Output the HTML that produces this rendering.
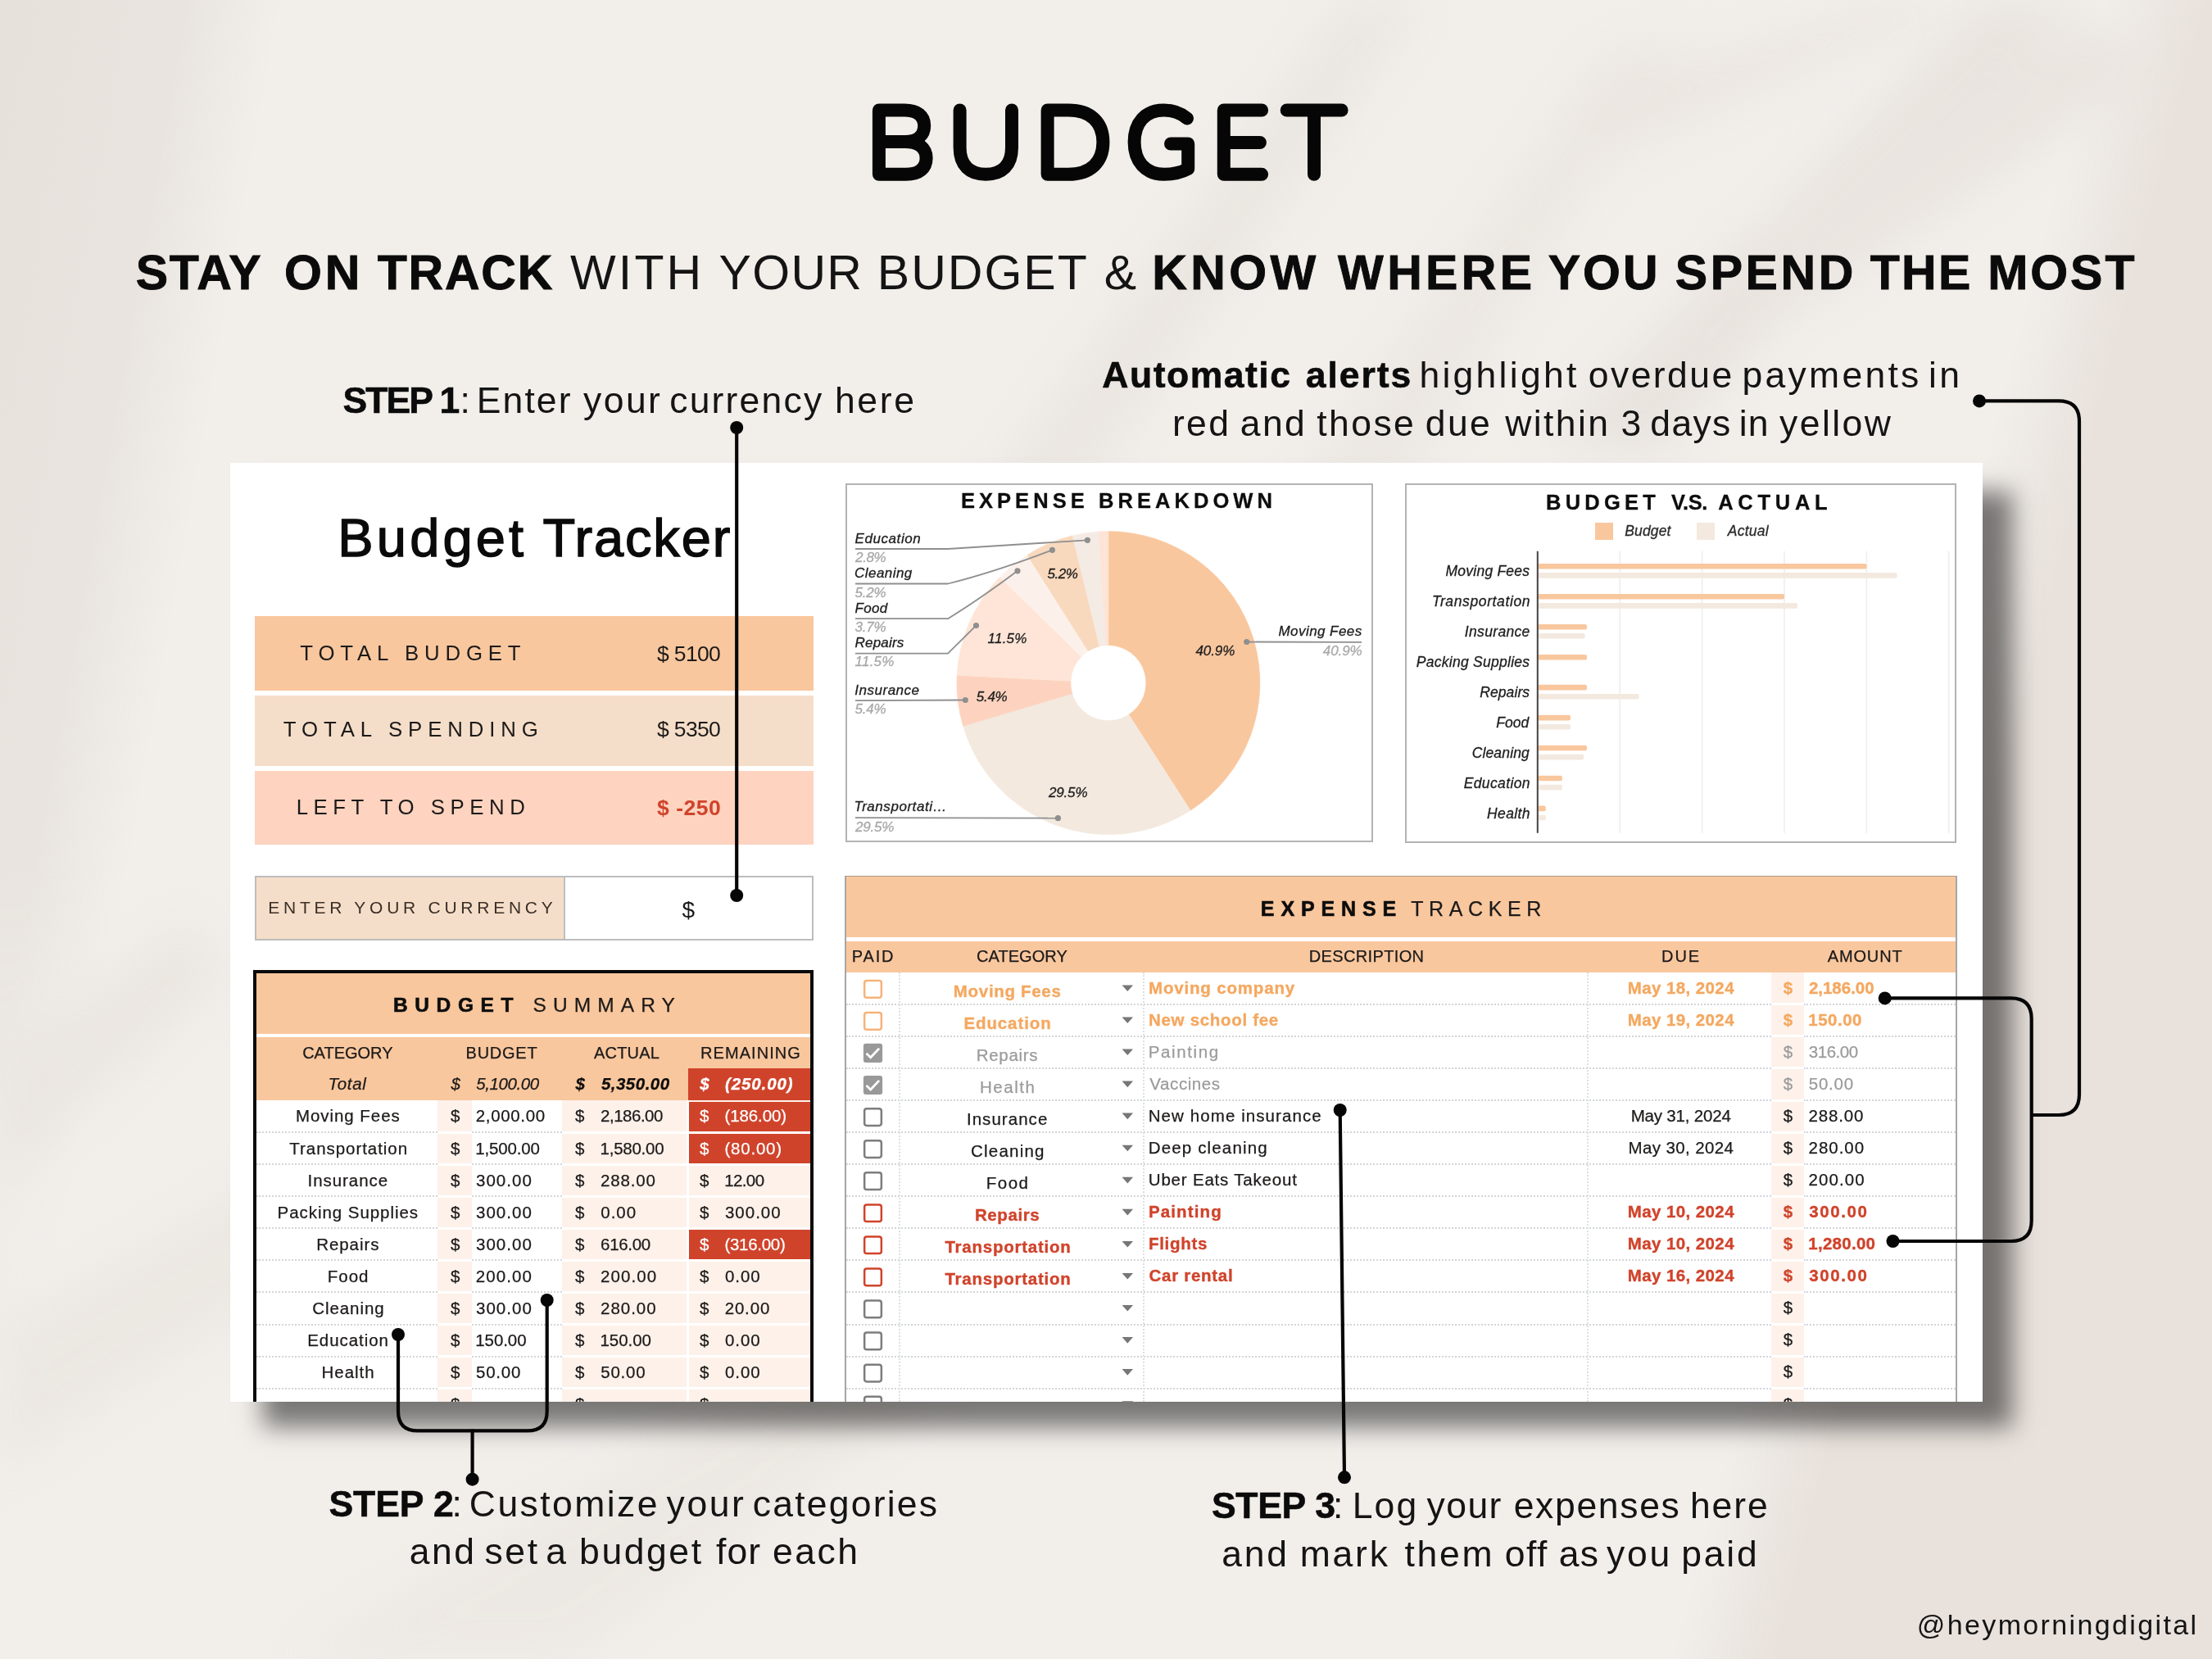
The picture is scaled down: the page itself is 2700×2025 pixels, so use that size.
<!DOCTYPE html>
<html lang="en"><head><meta charset="utf-8"><title>Budget</title><style>
html,body{margin:0;padding:0;}
body{width:2700px;height:2025px;position:relative;overflow:hidden;background:#f2efeb;font-family:"Liberation Sans",sans-serif;color:#111;}
#pg{position:absolute;left:0;top:0;width:2700px;height:2025px;overflow:hidden;will-change:transform;}
#pg div,#pg span,#pg svg{position:absolute;}
#pg span{white-space:pre;line-height:1;}
</style></head><body><div id="pg">
<div style="left:0;top:0;width:2700px;height:2025px;background:linear-gradient(100deg, #e7e1dc 0%, #e9e4df 7.5%, rgba(242,239,235,0) 11.2%);-webkit-mask-image:linear-gradient(to bottom, #000 0%, #000 52%, rgba(0,0,0,.35) 72%, rgba(0,0,0,.15) 100%);mask-image:linear-gradient(to bottom, #000 0%, #000 52%, rgba(0,0,0,.35) 72%, rgba(0,0,0,.15) 100%);"></div>
<div style="left:0;top:0;width:2700px;height:2025px;background:linear-gradient(104.6deg, rgba(232,225,220,0) 79.6%, #e8e1dc 83.4%, #e8e1dc 100%);"></div>
<svg width="2700" height="2025" viewBox="0 0 2700 2025" style="left:0;top:0;filter:blur(26px);opacity:.85"><path d="M1170,640 L1640,0 L1740,0 L1300,640 Z" fill="#eae5e0"/><path d="M1560,620 L1960,60 L2060,40 L1700,620 Z" fill="#ebe6e1"/><path d="M1880,540 L2420,0 L2540,0 L2020,560 Z" fill="#e8e2dd"/><path d="M2100,300 L2560,20 L2620,90 L2200,380 Z" fill="#e9e3de"/><path d="M1900,120 L2300,0 L2400,0 L1960,200 Z" fill="#ebe5e0"/><path d="M-50,1650 L420,1380 L520,1450 L0,1800 Z" fill="#ebe6e1"/><path d="M350,2025 L1000,1650 L1150,1700 L700,2025 Z" fill="#ece7e2"/><path d="M-20,1300 L230,1120 L280,1190 L0,1450 Z" fill="#eae5e0"/></svg>
<div style="left:281px;top:565px;width:2139.3px;height:1145.6px;background:#fff;box-shadow:38px 33px 28px -2px rgba(0,0,0,.5);"></div>
<div style="left:0;top:0;width:2700px;height:1710.6px;overflow:hidden">
<span style="left:412.37px;top:624.16px;font-size:65px;letter-spacing:4.138px;color:#0a0a0a;-webkit-text-stroke:1.4px #0a0a0a;">Budget</span>
<span style="left:662.44px;top:624.16px;font-size:65px;letter-spacing:1.825px;color:#0a0a0a;-webkit-text-stroke:1.4px #0a0a0a;">Tracker</span>
<div style="left:310.60px;top:751.80px;width:682.00px;height:91.20px;background:#F9C79E;"></div>
<div style="left:310.60px;top:848.60px;width:682.00px;height:86.80px;background:#F5DEC9;"></div>
<div style="left:310.60px;top:941.00px;width:682.00px;height:89.70px;background:#FED3BF;"></div>
<span style="left:366.32px;top:785.46px;font-size:25.8px;letter-spacing:6.800px;color:#1c1a19;">TOTAL BUDGET</span>
<span style="left:802.12px;top:784.86px;font-size:26.5px;letter-spacing:-0.689px;color:#1c1a19;">$ 5100</span>
<span style="left:345.82px;top:878.06px;font-size:25.8px;letter-spacing:6.876px;color:#1c1a19;">TOTAL SPENDING</span>
<span style="left:802.12px;top:877.46px;font-size:26.5px;letter-spacing:-0.689px;color:#1c1a19;">$ 5350</span>
<span style="left:361.68px;top:973.36px;font-size:25.8px;letter-spacing:6.536px;color:#1c1a19;">LEFT TO SPEND</span>
<span style="left:802.05px;top:972.76px;font-size:26.5px;letter-spacing:0.519px;font-weight:700;color:#D0432B;">$ -250</span>
<div style="left:310.60px;top:1068.50px;width:682.00px;height:79.10px;background:#fff;box-sizing:border-box;border:2px solid #bdbdbd;"></div>
<div style="left:312.60px;top:1070.50px;width:375.40px;height:75.10px;background:#F5DEC9;border-right:2px solid #bdbdbd;"></div>
<span style="left:327.28px;top:1097.22px;font-size:21px;letter-spacing:4.740px;color:#3a2e26;">ENTER YOUR CURRENCY</span>
<span style="left:832.49px;top:1096.59px;font-size:28px;color:#1c1a19;">$</span>
<div style="left:1031.70px;top:589.80px;width:644.00px;height:438.40px;background:#fff;box-sizing:border-box;border:2px solid #b3b3b3;"></div>
<span style="left:1172.89px;top:599.31px;font-size:25.5px;letter-spacing:5.067px;font-weight:700;color:#0d0d0d;-webkit-text-stroke:0.3px #0d0d0d;">EXPENSE BREAKDOWN</span>
<svg width="2700" height="1100" viewBox="0 0 2700 1100" style="left:0;top:0"><path d="M1352.90,648.60 A185,185 0 0 1 1453.01,989.17 L1377.79,872.28 A46,46 0 0 0 1352.90,787.60 Z" fill="#F9C79E" stroke="#F9C79E" stroke-width="0.6"/><path d="M1453.01,989.17 A185,185 0 0 1 1175.57,886.33 L1308.81,846.71 A46,46 0 0 0 1377.79,872.28 Z" fill="#F3E9DF" stroke="#F3E9DF" stroke-width="0.6"/><path d="M1175.57,886.33 A185,185 0 0 1 1168.13,824.30 L1306.96,831.29 A46,46 0 0 0 1308.81,846.71 Z" fill="#FDD3BF" stroke="#FDD3BF" stroke-width="0.6"/><path d="M1168.13,824.30 A185,185 0 0 1 1220.45,704.44 L1319.97,801.48 A46,46 0 0 0 1306.96,831.29 Z" fill="#FEE5D7" stroke="#FEE5D7" stroke-width="0.6"/><path d="M1220.45,704.44 A185,185 0 0 1 1253.77,677.40 L1328.25,794.76 A46,46 0 0 0 1319.97,801.48 Z" fill="#FCF1EA" stroke="#FCF1EA" stroke-width="0.6"/><path d="M1253.77,677.40 A185,185 0 0 1 1309.15,653.85 L1342.02,788.90 A46,46 0 0 0 1328.25,794.76 Z" fill="#F9D9BE" stroke="#F9D9BE" stroke-width="0.6"/><path d="M1309.15,653.85 A185,185 0 0 1 1341.28,648.97 L1350.01,787.69 A46,46 0 0 0 1342.02,788.90 Z" fill="#F5EBE5" stroke="#F5EBE5" stroke-width="0.6"/><path d="M1341.28,648.97 A185,185 0 0 1 1352.90,648.60 L1352.90,787.60 A46,46 0 0 0 1350.01,787.69 Z" fill="#FDE4D6" stroke="#FDE4D6" stroke-width="0.6"/><g fill="none" stroke="#8f8f8f" stroke-width="1.8"><path d="M1044,670 L1157,670 L1327.4,659.3"/><path d="M1044,712.5 L1157,712.5 Q1215,698 1284.4,671.3"/><path d="M1044,755.2 L1157,755.2 Q1195,732 1242,696.8"/><path d="M1044,797.7 L1157,797.7 L1191.5,763.5"/><path d="M1044,855.1 L1178.3,854.5"/><path d="M1044,998.1 L1291.4,998.7"/><path d="M1521.7,783.5 L1662,783.8"/></g><g fill="#8f8f8f"><circle cx="1327.4" cy="659.3" r="3.6"/><circle cx="1284.4" cy="671.3" r="3.6"/><circle cx="1242" cy="696.8" r="3.6"/><circle cx="1191.5" cy="763.5" r="3.6"/><circle cx="1178.3" cy="854.5" r="3.6"/><circle cx="1291.4" cy="998.7" r="3.6"/><circle cx="1521.7" cy="783.5" r="3.6"/></g></svg>
<span style="left:1043.48px;top:648.61px;font-size:17px;letter-spacing:0.584px;font-style:italic;color:#1d1d1d;-webkit-text-stroke:0.3px #1d1d1d;">Education</span>
<span style="left:1044.10px;top:671.61px;font-size:17px;letter-spacing:-0.406px;font-style:italic;color:#a8a8a8;-webkit-text-stroke:0.3px #a8a8a8;">2.8%</span>
<span style="left:1043.06px;top:691.01px;font-size:17px;letter-spacing:0.440px;font-style:italic;color:#1d1d1d;-webkit-text-stroke:0.3px #1d1d1d;">Cleaning</span>
<span style="left:1043.62px;top:714.61px;font-size:17px;letter-spacing:-0.246px;font-style:italic;color:#a8a8a8;-webkit-text-stroke:0.3px #a8a8a8;">5.2%</span>
<span style="left:1043.48px;top:733.81px;font-size:17px;letter-spacing:0.308px;font-style:italic;color:#1d1d1d;-webkit-text-stroke:0.3px #1d1d1d;">Food</span>
<span style="left:1043.60px;top:757.11px;font-size:17px;letter-spacing:-0.240px;font-style:italic;color:#a8a8a8;-webkit-text-stroke:0.3px #a8a8a8;">3.7%</span>
<span style="left:1043.48px;top:776.21px;font-size:17px;letter-spacing:0.213px;font-style:italic;color:#1d1d1d;-webkit-text-stroke:0.3px #1d1d1d;">Repairs</span>
<span style="left:1043.56px;top:799.21px;font-size:17px;letter-spacing:0.229px;font-style:italic;color:#a8a8a8;-webkit-text-stroke:0.3px #a8a8a8;">11.5%</span>
<span style="left:1043.33px;top:834.01px;font-size:17px;letter-spacing:0.504px;font-style:italic;color:#1d1d1d;-webkit-text-stroke:0.3px #1d1d1d;">Insurance</span>
<span style="left:1043.62px;top:856.71px;font-size:17px;letter-spacing:-0.246px;font-style:italic;color:#a8a8a8;-webkit-text-stroke:0.3px #a8a8a8;">5.4%</span>
<span style="left:1042.47px;top:976.01px;font-size:17px;letter-spacing:0.549px;font-style:italic;color:#1d1d1d;-webkit-text-stroke:0.3px #1d1d1d;">Transportati…</span>
<span style="left:1044.10px;top:1000.61px;font-size:17px;letter-spacing:-0.218px;font-style:italic;color:#a8a8a8;-webkit-text-stroke:0.3px #a8a8a8;">29.5%</span>
<span style="left:1560.48px;top:762.31px;font-size:17px;letter-spacing:0.444px;font-style:italic;color:#1d1d1d;-webkit-text-stroke:0.3px #1d1d1d;">Moving Fees</span>
<span style="left:1614.79px;top:786.31px;font-size:17px;letter-spacing:-0.091px;font-style:italic;color:#a8a8a8;-webkit-text-stroke:0.3px #a8a8a8;">40.9%</span>
<span style="left:1459.49px;top:786.31px;font-size:17px;letter-spacing:-0.091px;font-style:italic;color:#1d1d1d;-webkit-text-stroke:0.3px #1d1d1d;">40.9%</span>
<span style="left:1279.90px;top:958.51px;font-size:17px;letter-spacing:-0.143px;font-style:italic;color:#1d1d1d;-webkit-text-stroke:0.3px #1d1d1d;">29.5%</span>
<span style="left:1191.82px;top:842.31px;font-size:17px;letter-spacing:-0.279px;font-style:italic;color:#1d1d1d;-webkit-text-stroke:0.3px #1d1d1d;">5.4%</span>
<span style="left:1205.56px;top:771.01px;font-size:17px;letter-spacing:0.229px;font-style:italic;color:#1d1d1d;-webkit-text-stroke:0.3px #1d1d1d;">11.5%</span>
<span style="left:1278.42px;top:691.61px;font-size:17px;letter-spacing:-0.446px;font-style:italic;color:#1d1d1d;-webkit-text-stroke:0.3px #1d1d1d;">5.2%</span>
<div style="left:1715.00px;top:590.40px;width:672.80px;height:438.20px;background:#fff;box-sizing:border-box;border:2px solid #b3b3b3;"></div>
<span style="left:1887.09px;top:600.71px;font-size:25.5px;letter-spacing:5.222px;font-weight:700;color:#0d0d0d;-webkit-text-stroke:0.3px #0d0d0d;">BUDGET</span>
<span style="left:2039.93px;top:600.71px;font-size:25.5px;letter-spacing:-0.510px;font-weight:700;color:#0d0d0d;-webkit-text-stroke:0.3px #0d0d0d;">V.S.</span>
<span style="left:2097.16px;top:600.71px;font-size:25.5px;letter-spacing:5.738px;font-weight:700;color:#0d0d0d;-webkit-text-stroke:0.3px #0d0d0d;">ACTUAL</span>
<div style="left:1947.40px;top:638.00px;width:21.20px;height:20.50px;background:#F9C79E;"></div>
<div style="left:2071.00px;top:638.00px;width:22.00px;height:20.50px;background:#F3E9DF;"></div>
<span style="left:1983.26px;top:639.68px;font-size:17.5px;letter-spacing:0.153px;font-style:italic;color:#2a2a2a;-webkit-text-stroke:0.3px #2a2a2a;">Budget</span>
<span style="left:2108.76px;top:639.68px;font-size:17.5px;letter-spacing:0.241px;font-style:italic;color:#2a2a2a;-webkit-text-stroke:0.3px #2a2a2a;">Actual</span>
<svg width="2700" height="1100" viewBox="0 0 2700 1100" style="left:0;top:0"><rect x="1976.5" y="672.8" width="1.4" height="344" fill="#ececec"/><rect x="2076.9" y="672.8" width="1.4" height="344" fill="#ececec"/><rect x="2177.3" y="672.8" width="1.4" height="344" fill="#ececec"/><rect x="2277.7" y="672.8" width="1.4" height="344" fill="#ececec"/><rect x="2378.1" y="672.8" width="1.4" height="344" fill="#ececec"/><rect x="1876.8" y="688.0" width="401.6" height="6.6" rx="2" fill="#F9C79E"/><rect x="1876.8" y="699.1" width="438.9" height="6.6" rx="2" fill="#F3E9DF"/><rect x="1876.8" y="725.0" width="301.2" height="6.6" rx="2" fill="#F9C79E"/><rect x="1876.8" y="736.1" width="317.3" height="6.6" rx="2" fill="#F3E9DF"/><rect x="1876.8" y="761.9" width="60.2" height="6.6" rx="2" fill="#F9C79E"/><rect x="1876.8" y="773.0" width="57.8" height="6.6" rx="2" fill="#F3E9DF"/><rect x="1876.8" y="798.9" width="60.2" height="6.6" rx="2" fill="#F9C79E"/><rect x="1876.8" y="835.8" width="60.2" height="6.6" rx="2" fill="#F9C79E"/><rect x="1876.8" y="846.9" width="123.7" height="6.6" rx="2" fill="#F3E9DF"/><rect x="1876.8" y="872.8" width="40.2" height="6.6" rx="2" fill="#F9C79E"/><rect x="1876.8" y="883.9" width="40.2" height="6.6" rx="2" fill="#F3E9DF"/><rect x="1876.8" y="909.7" width="60.2" height="6.6" rx="2" fill="#F9C79E"/><rect x="1876.8" y="920.8" width="56.2" height="6.6" rx="2" fill="#F3E9DF"/><rect x="1876.8" y="946.7" width="30.1" height="6.6" rx="2" fill="#F9C79E"/><rect x="1876.8" y="957.8" width="30.1" height="6.6" rx="2" fill="#F3E9DF"/><rect x="1876.8" y="983.6" width="10.0" height="6.6" rx="2" fill="#F9C79E"/><rect x="1876.8" y="994.7" width="10.0" height="6.6" rx="2" fill="#F3E9DF"/><rect x="1875.8" y="672.8" width="2.0" height="344" fill="#444"/></svg>
<span style="left:1764.56px;top:689.28px;font-size:17.5px;letter-spacing:0.231px;font-style:italic;color:#1d1d1d;-webkit-text-stroke:0.3px #1d1d1d;">Moving Fees</span>
<span style="left:1747.93px;top:726.23px;font-size:17.5px;letter-spacing:0.617px;font-style:italic;color:#1d1d1d;-webkit-text-stroke:0.3px #1d1d1d;">Transportation</span>
<span style="left:1787.81px;top:763.18px;font-size:17.5px;letter-spacing:0.335px;font-style:italic;color:#1d1d1d;-webkit-text-stroke:0.3px #1d1d1d;">Insurance</span>
<span style="left:1728.76px;top:800.13px;font-size:17.5px;letter-spacing:0.270px;font-style:italic;color:#1d1d1d;-webkit-text-stroke:0.3px #1d1d1d;">Packing Supplies</span>
<span style="left:1806.26px;top:837.08px;font-size:17.5px;letter-spacing:0.081px;font-style:italic;color:#1d1d1d;-webkit-text-stroke:0.3px #1d1d1d;">Repairs</span>
<span style="left:1826.36px;top:874.03px;font-size:17.5px;font-style:italic;color:#1d1d1d;-webkit-text-stroke:0.3px #1d1d1d;">Food</span>
<span style="left:1796.63px;top:910.98px;font-size:17.5px;letter-spacing:0.163px;font-style:italic;color:#1d1d1d;-webkit-text-stroke:0.3px #1d1d1d;">Cleaning</span>
<span style="left:1786.66px;top:947.93px;font-size:17.5px;letter-spacing:0.374px;font-style:italic;color:#1d1d1d;-webkit-text-stroke:0.3px #1d1d1d;">Education</span>
<span style="left:1815.06px;top:984.88px;font-size:17.5px;letter-spacing:0.370px;font-style:italic;color:#1d1d1d;-webkit-text-stroke:0.3px #1d1d1d;">Health</span>
<div style="left:313.00px;top:1187.00px;width:675.70px;height:74.50px;background:#F9C79E;"></div>
<div style="left:313.00px;top:1266.00px;width:675.70px;height:77.04px;background:#F9C79E;"></div>
<span style="left:479.96px;top:1215.26px;font-size:24.5px;letter-spacing:8.630px;font-weight:700;color:#0d0d0d;-webkit-text-stroke:0.6px #0d0d0d;">BUDGET</span>
<span style="left:650.49px;top:1215.26px;font-size:24.5px;letter-spacing:8.109px;color:#1c1a19;-webkit-text-stroke:0.25px #1c1a19;">SUMMARY</span>
<span style="left:369.18px;top:1274.87px;font-size:20px;letter-spacing:-0.005px;color:#1c1a19;-webkit-text-stroke:0.25px #1c1a19;">CATEGORY</span>
<span style="left:568.56px;top:1274.87px;font-size:20px;letter-spacing:0.751px;color:#1c1a19;-webkit-text-stroke:0.25px #1c1a19;">BUDGET</span>
<span style="left:724.96px;top:1274.87px;font-size:20px;letter-spacing:0.219px;color:#1c1a19;-webkit-text-stroke:0.25px #1c1a19;">ACTUAL</span>
<span style="left:855.06px;top:1274.87px;font-size:20px;letter-spacing:1.061px;color:#1c1a19;-webkit-text-stroke:0.25px #1c1a19;">REMAINING</span>
<div style="left:534.00px;top:1343.04px;width:41.70px;height:367.56px;background:#FDF1EA;"></div>
<div style="left:686.00px;top:1343.04px;width:302.70px;height:367.56px;background:#FDF1EA;"></div>
<div style="left:838.20px;top:1343.04px;width:3.00px;height:367.56px;background:#fff;"></div>
<div style="left:839.70px;top:1303.98px;width:149.00px;height:39.06px;background:#D0432B;"></div>
<span style="left:400.60px;top:1313.42px;font-size:20.5px;letter-spacing:0.600px;font-style:italic;color:#1c1a19;-webkit-text-stroke:0.25px #1c1a19;">Total</span>
<span style="left:550.42px;top:1313.42px;font-size:20.5px;font-style:italic;color:#1c1a19;-webkit-text-stroke:0.25px #1c1a19;">$</span>
<span style="left:581.34px;top:1313.42px;font-size:20.5px;letter-spacing:-0.412px;font-style:italic;color:#1c1a19;-webkit-text-stroke:0.25px #1c1a19;">5,100.00</span>
<span style="left:702.41px;top:1313.42px;font-size:20.5px;font-weight:700;font-style:italic;color:#0d0d0d;-webkit-text-stroke:0.25px #0d0d0d;">$</span>
<span style="left:733.90px;top:1313.42px;font-size:20.5px;letter-spacing:0.490px;font-weight:700;font-style:italic;color:#0d0d0d;-webkit-text-stroke:0.25px #0d0d0d;">5,350.00</span>
<span style="left:854.31px;top:1313.42px;font-size:20.5px;font-weight:700;font-style:italic;color:#fff;-webkit-text-stroke:0.25px #fff;">$</span>
<span style="left:884.96px;top:1313.42px;font-size:20.5px;letter-spacing:0.908px;font-weight:700;font-style:italic;color:#fff;-webkit-text-stroke:0.25px #fff;">(250.00)</span>
<div style="left:841.20px;top:1344.54px;width:147.50px;height:36.06px;background:#D0432B;"></div>
<div style="left:534.00px;top:1380.60px;width:41.70px;height:3.00px;background:#fff;"></div>
<div style="left:686.00px;top:1380.60px;width:302.70px;height:3.00px;background:#fff;"></div>
<div style="left:313.0px;top:1381.1px;width:221.0px;height:0;border-top:2px dotted #d3d6d9;"></div>
<div style="left:575.7px;top:1381.1px;width:110.3px;height:0;border-top:2px dotted #d3d6d9;"></div>
<span style="left:360.90px;top:1352.48px;font-size:20.5px;letter-spacing:0.950px;color:#1c1a19;-webkit-text-stroke:0.25px #1c1a19;">Moving Fees</span>
<span style="left:550.08px;top:1352.48px;font-size:20.5px;color:#1c1a19;-webkit-text-stroke:0.25px #1c1a19;">$</span>
<span style="left:580.77px;top:1352.48px;font-size:20.5px;letter-spacing:0.646px;color:#1c1a19;-webkit-text-stroke:0.25px #1c1a19;">2,000.00</span>
<span style="left:702.08px;top:1352.48px;font-size:20.5px;color:#1c1a19;-webkit-text-stroke:0.25px #1c1a19;">$</span>
<span style="left:733.07px;top:1352.48px;font-size:20.5px;letter-spacing:-0.497px;color:#1c1a19;-webkit-text-stroke:0.25px #1c1a19;">2,186.00</span>
<span style="left:853.98px;top:1352.48px;font-size:20.5px;color:#fff;-webkit-text-stroke:0.25px #fff;">$</span>
<span style="left:884.43px;top:1352.48px;font-size:20.5px;letter-spacing:-0.102px;color:#fff;-webkit-text-stroke:0.25px #fff;">(186.00)</span>
<div style="left:841.20px;top:1383.60px;width:147.50px;height:36.06px;background:#D0432B;"></div>
<div style="left:534.00px;top:1419.66px;width:41.70px;height:3.00px;background:#fff;"></div>
<div style="left:686.00px;top:1419.66px;width:302.70px;height:3.00px;background:#fff;"></div>
<div style="left:313.0px;top:1420.2px;width:221.0px;height:0;border-top:2px dotted #d3d6d9;"></div>
<div style="left:575.7px;top:1420.2px;width:110.3px;height:0;border-top:2px dotted #d3d6d9;"></div>
<span style="left:353.35px;top:1391.54px;font-size:20.5px;letter-spacing:0.950px;color:#1c1a19;-webkit-text-stroke:0.25px #1c1a19;">Transportation</span>
<span style="left:550.08px;top:1391.54px;font-size:20.5px;color:#1c1a19;-webkit-text-stroke:0.25px #1c1a19;">$</span>
<span style="left:580.24px;top:1391.54px;font-size:20.5px;letter-spacing:-0.164px;color:#1c1a19;-webkit-text-stroke:0.25px #1c1a19;">1,500.00</span>
<span style="left:702.08px;top:1391.54px;font-size:20.5px;color:#1c1a19;-webkit-text-stroke:0.25px #1c1a19;">$</span>
<span style="left:732.54px;top:1391.54px;font-size:20.5px;letter-spacing:-0.243px;color:#1c1a19;-webkit-text-stroke:0.25px #1c1a19;">1,580.00</span>
<span style="left:853.98px;top:1391.54px;font-size:20.5px;color:#fff;-webkit-text-stroke:0.25px #fff;">$</span>
<span style="left:884.43px;top:1391.54px;font-size:20.5px;letter-spacing:0.787px;color:#fff;-webkit-text-stroke:0.25px #fff;">(80.00)</span>
<div style="left:534.00px;top:1458.72px;width:41.70px;height:3.00px;background:#fff;"></div>
<div style="left:686.00px;top:1458.72px;width:302.70px;height:3.00px;background:#fff;"></div>
<div style="left:313.0px;top:1459.2px;width:221.0px;height:0;border-top:2px dotted #d3d6d9;"></div>
<div style="left:575.7px;top:1459.2px;width:110.3px;height:0;border-top:2px dotted #d3d6d9;"></div>
<span style="left:375.49px;top:1430.60px;font-size:20.5px;letter-spacing:0.950px;color:#1c1a19;-webkit-text-stroke:0.25px #1c1a19;">Insurance</span>
<span style="left:550.08px;top:1430.60px;font-size:20.5px;color:#1c1a19;-webkit-text-stroke:0.25px #1c1a19;">$</span>
<span style="left:581.02px;top:1430.60px;font-size:20.5px;letter-spacing:1.016px;color:#1c1a19;-webkit-text-stroke:0.25px #1c1a19;">300.00</span>
<span style="left:702.08px;top:1430.60px;font-size:20.5px;color:#1c1a19;-webkit-text-stroke:0.25px #1c1a19;">$</span>
<span style="left:733.07px;top:1430.60px;font-size:20.5px;letter-spacing:0.846px;color:#1c1a19;-webkit-text-stroke:0.25px #1c1a19;">288.00</span>
<span style="left:853.98px;top:1430.60px;font-size:20.5px;color:#1c1a19;-webkit-text-stroke:0.25px #1c1a19;">$</span>
<span style="left:884.14px;top:1430.60px;font-size:20.5px;letter-spacing:-0.588px;color:#1c1a19;-webkit-text-stroke:0.25px #1c1a19;">12.00</span>
<div style="left:534.00px;top:1497.78px;width:41.70px;height:3.00px;background:#fff;"></div>
<div style="left:686.00px;top:1497.78px;width:302.70px;height:3.00px;background:#fff;"></div>
<div style="left:313.0px;top:1498.3px;width:221.0px;height:0;border-top:2px dotted #d3d6d9;"></div>
<div style="left:575.7px;top:1498.3px;width:110.3px;height:0;border-top:2px dotted #d3d6d9;"></div>
<span style="left:338.57px;top:1469.66px;font-size:20.5px;letter-spacing:0.950px;color:#1c1a19;-webkit-text-stroke:0.25px #1c1a19;">Packing Supplies</span>
<span style="left:550.08px;top:1469.66px;font-size:20.5px;color:#1c1a19;-webkit-text-stroke:0.25px #1c1a19;">$</span>
<span style="left:581.02px;top:1469.66px;font-size:20.5px;letter-spacing:1.016px;color:#1c1a19;-webkit-text-stroke:0.25px #1c1a19;">300.00</span>
<span style="left:702.08px;top:1469.66px;font-size:20.5px;color:#1c1a19;-webkit-text-stroke:0.25px #1c1a19;">$</span>
<span style="left:733.30px;top:1469.66px;font-size:20.5px;letter-spacing:0.965px;color:#1c1a19;-webkit-text-stroke:0.25px #1c1a19;">0.00</span>
<span style="left:853.98px;top:1469.66px;font-size:20.5px;color:#1c1a19;-webkit-text-stroke:0.25px #1c1a19;">$</span>
<span style="left:884.92px;top:1469.66px;font-size:20.5px;letter-spacing:1.016px;color:#1c1a19;-webkit-text-stroke:0.25px #1c1a19;">300.00</span>
<div style="left:841.20px;top:1500.78px;width:147.50px;height:36.06px;background:#D0432B;"></div>
<div style="left:534.00px;top:1536.84px;width:41.70px;height:3.00px;background:#fff;"></div>
<div style="left:686.00px;top:1536.84px;width:302.70px;height:3.00px;background:#fff;"></div>
<div style="left:313.0px;top:1537.3px;width:221.0px;height:0;border-top:2px dotted #d3d6d9;"></div>
<div style="left:575.7px;top:1537.3px;width:110.3px;height:0;border-top:2px dotted #d3d6d9;"></div>
<span style="left:386.16px;top:1508.72px;font-size:20.5px;letter-spacing:0.950px;color:#1c1a19;-webkit-text-stroke:0.25px #1c1a19;">Repairs</span>
<span style="left:550.08px;top:1508.72px;font-size:20.5px;color:#1c1a19;-webkit-text-stroke:0.25px #1c1a19;">$</span>
<span style="left:581.02px;top:1508.72px;font-size:20.5px;letter-spacing:1.016px;color:#1c1a19;-webkit-text-stroke:0.25px #1c1a19;">300.00</span>
<span style="left:702.08px;top:1508.72px;font-size:20.5px;color:#1c1a19;-webkit-text-stroke:0.25px #1c1a19;">$</span>
<span style="left:733.06px;top:1508.72px;font-size:20.5px;letter-spacing:-0.312px;color:#1c1a19;-webkit-text-stroke:0.25px #1c1a19;">616.00</span>
<span style="left:853.98px;top:1508.72px;font-size:20.5px;color:#fff;-webkit-text-stroke:0.25px #fff;">$</span>
<span style="left:884.43px;top:1508.72px;font-size:20.5px;letter-spacing:-0.281px;color:#fff;-webkit-text-stroke:0.25px #fff;">(316.00)</span>
<div style="left:534.00px;top:1575.90px;width:41.70px;height:3.00px;background:#fff;"></div>
<div style="left:686.00px;top:1575.90px;width:302.70px;height:3.00px;background:#fff;"></div>
<div style="left:313.0px;top:1576.4px;width:221.0px;height:0;border-top:2px dotted #d3d6d9;"></div>
<div style="left:575.7px;top:1576.4px;width:110.3px;height:0;border-top:2px dotted #d3d6d9;"></div>
<span style="left:399.83px;top:1547.78px;font-size:20.5px;letter-spacing:0.950px;color:#1c1a19;-webkit-text-stroke:0.25px #1c1a19;">Food</span>
<span style="left:550.08px;top:1547.78px;font-size:20.5px;color:#1c1a19;-webkit-text-stroke:0.25px #1c1a19;">$</span>
<span style="left:580.77px;top:1547.78px;font-size:20.5px;letter-spacing:1.066px;color:#1c1a19;-webkit-text-stroke:0.25px #1c1a19;">200.00</span>
<span style="left:702.08px;top:1547.78px;font-size:20.5px;color:#1c1a19;-webkit-text-stroke:0.25px #1c1a19;">$</span>
<span style="left:733.07px;top:1547.78px;font-size:20.5px;letter-spacing:1.066px;color:#1c1a19;-webkit-text-stroke:0.25px #1c1a19;">200.00</span>
<span style="left:853.98px;top:1547.78px;font-size:20.5px;color:#1c1a19;-webkit-text-stroke:0.25px #1c1a19;">$</span>
<span style="left:884.90px;top:1547.78px;font-size:20.5px;letter-spacing:0.965px;color:#1c1a19;-webkit-text-stroke:0.25px #1c1a19;">0.00</span>
<div style="left:534.00px;top:1614.96px;width:41.70px;height:3.00px;background:#fff;"></div>
<div style="left:686.00px;top:1614.96px;width:302.70px;height:3.00px;background:#fff;"></div>
<div style="left:313.0px;top:1615.5px;width:221.0px;height:0;border-top:2px dotted #d3d6d9;"></div>
<div style="left:575.7px;top:1615.5px;width:110.3px;height:0;border-top:2px dotted #d3d6d9;"></div>
<span style="left:381.15px;top:1586.84px;font-size:20.5px;letter-spacing:0.950px;color:#1c1a19;-webkit-text-stroke:0.25px #1c1a19;">Cleaning</span>
<span style="left:550.08px;top:1586.84px;font-size:20.5px;color:#1c1a19;-webkit-text-stroke:0.25px #1c1a19;">$</span>
<span style="left:581.02px;top:1586.84px;font-size:20.5px;letter-spacing:1.016px;color:#1c1a19;-webkit-text-stroke:0.25px #1c1a19;">300.00</span>
<span style="left:702.08px;top:1586.84px;font-size:20.5px;color:#1c1a19;-webkit-text-stroke:0.25px #1c1a19;">$</span>
<span style="left:733.07px;top:1586.84px;font-size:20.5px;letter-spacing:0.956px;color:#1c1a19;-webkit-text-stroke:0.25px #1c1a19;">280.00</span>
<span style="left:853.98px;top:1586.84px;font-size:20.5px;color:#1c1a19;-webkit-text-stroke:0.25px #1c1a19;">$</span>
<span style="left:884.67px;top:1586.84px;font-size:20.5px;letter-spacing:0.830px;color:#1c1a19;-webkit-text-stroke:0.25px #1c1a19;">20.00</span>
<div style="left:534.00px;top:1654.02px;width:41.70px;height:3.00px;background:#fff;"></div>
<div style="left:686.00px;top:1654.02px;width:302.70px;height:3.00px;background:#fff;"></div>
<div style="left:313.0px;top:1654.5px;width:221.0px;height:0;border-top:2px dotted #d3d6d9;"></div>
<div style="left:575.7px;top:1654.5px;width:110.3px;height:0;border-top:2px dotted #d3d6d9;"></div>
<span style="left:375.23px;top:1625.90px;font-size:20.5px;letter-spacing:0.950px;color:#1c1a19;-webkit-text-stroke:0.25px #1c1a19;">Education</span>
<span style="left:550.08px;top:1625.90px;font-size:20.5px;color:#1c1a19;-webkit-text-stroke:0.25px #1c1a19;">$</span>
<span style="left:580.24px;top:1625.90px;font-size:20.5px;letter-spacing:-0.068px;color:#1c1a19;-webkit-text-stroke:0.25px #1c1a19;">150.00</span>
<span style="left:702.08px;top:1625.90px;font-size:20.5px;color:#1c1a19;-webkit-text-stroke:0.25px #1c1a19;">$</span>
<span style="left:732.54px;top:1625.90px;font-size:20.5px;letter-spacing:-0.068px;color:#1c1a19;-webkit-text-stroke:0.25px #1c1a19;">150.00</span>
<span style="left:853.98px;top:1625.90px;font-size:20.5px;color:#1c1a19;-webkit-text-stroke:0.25px #1c1a19;">$</span>
<span style="left:884.90px;top:1625.90px;font-size:20.5px;letter-spacing:0.965px;color:#1c1a19;-webkit-text-stroke:0.25px #1c1a19;">0.00</span>
<div style="left:534.00px;top:1693.08px;width:41.70px;height:3.00px;background:#fff;"></div>
<div style="left:686.00px;top:1693.08px;width:302.70px;height:3.00px;background:#fff;"></div>
<div style="left:313.0px;top:1693.6px;width:221.0px;height:0;border-top:2px dotted #d3d6d9;"></div>
<div style="left:575.7px;top:1693.6px;width:110.3px;height:0;border-top:2px dotted #d3d6d9;"></div>
<span style="left:392.62px;top:1664.96px;font-size:20.5px;letter-spacing:0.950px;color:#1c1a19;-webkit-text-stroke:0.25px #1c1a19;">Health</span>
<span style="left:550.08px;top:1664.96px;font-size:20.5px;color:#1c1a19;-webkit-text-stroke:0.25px #1c1a19;">$</span>
<span style="left:580.98px;top:1664.96px;font-size:20.5px;letter-spacing:0.777px;color:#1c1a19;-webkit-text-stroke:0.25px #1c1a19;">50.00</span>
<span style="left:702.08px;top:1664.96px;font-size:20.5px;color:#1c1a19;-webkit-text-stroke:0.25px #1c1a19;">$</span>
<span style="left:733.28px;top:1664.96px;font-size:20.5px;letter-spacing:0.777px;color:#1c1a19;-webkit-text-stroke:0.25px #1c1a19;">50.00</span>
<span style="left:853.98px;top:1664.96px;font-size:20.5px;color:#1c1a19;-webkit-text-stroke:0.25px #1c1a19;">$</span>
<span style="left:884.90px;top:1664.96px;font-size:20.5px;letter-spacing:0.965px;color:#1c1a19;-webkit-text-stroke:0.25px #1c1a19;">0.00</span>
<div style="left:534.00px;top:1732.14px;width:41.70px;height:3.00px;background:#fff;"></div>
<div style="left:686.00px;top:1732.14px;width:302.70px;height:3.00px;background:#fff;"></div>
<div style="left:313.0px;top:1732.6px;width:221.0px;height:0;border-top:2px dotted #d3d6d9;"></div>
<div style="left:575.7px;top:1732.6px;width:110.3px;height:0;border-top:2px dotted #d3d6d9;"></div>
<span style="left:550.08px;top:1704.02px;font-size:20.5px;color:#1c1a19;-webkit-text-stroke:0.25px #1c1a19;">$</span>
<span style="left:702.08px;top:1704.02px;font-size:20.5px;color:#1c1a19;-webkit-text-stroke:0.25px #1c1a19;">$</span>
<span style="left:853.98px;top:1704.02px;font-size:20.5px;color:#1c1a19;-webkit-text-stroke:0.25px #1c1a19;">$</span>
<div style="left:309px;top:1183.5px;width:675.7px;height:527.0999999999999px;border:4px solid #0b0b0b;border-bottom:none;"></div>
<div style="left:1030.50px;top:1069.00px;width:1358.50px;height:75.00px;background:#F9C79E;box-sizing:border-box;border-top:1.5px solid #a89888;"></div>
<div style="left:1030.50px;top:1148.50px;width:1358.50px;height:38.30px;background:#F9C79E;"></div>
<span style="left:1538.83px;top:1097.13px;font-size:25px;letter-spacing:7.890px;font-weight:700;color:#0d0d0d;-webkit-text-stroke:0.6px #0d0d0d;">EXPENSE</span>
<span style="left:1722.24px;top:1097.13px;font-size:25px;letter-spacing:6.592px;color:#1c1a19;-webkit-text-stroke:0.25px #1c1a19;">TRACKER</span>
<span style="left:1039.66px;top:1157.27px;font-size:20px;letter-spacing:1.898px;color:#1c1a19;-webkit-text-stroke:0.25px #1c1a19;">PAID</span>
<span style="left:1192.08px;top:1157.27px;font-size:20px;letter-spacing:0.038px;color:#1c1a19;-webkit-text-stroke:0.25px #1c1a19;">CATEGORY</span>
<span style="left:1597.76px;top:1157.27px;font-size:20px;letter-spacing:0.358px;color:#1c1a19;-webkit-text-stroke:0.25px #1c1a19;">DESCRIPTION</span>
<span style="left:2028.06px;top:1157.27px;font-size:20px;letter-spacing:1.933px;color:#1c1a19;-webkit-text-stroke:0.25px #1c1a19;">DUE</span>
<span style="left:2230.66px;top:1157.27px;font-size:20px;letter-spacing:0.885px;color:#1c1a19;-webkit-text-stroke:0.25px #1c1a19;">AMOUNT</span>
<div style="left:2162.00px;top:1186.80px;width:40.30px;height:523.80px;background:#FDF1EA;"></div>
<div style="left:1032.5px;top:1224.9px;width:1129.5px;height:0;border-top:2px dotted #d3d6d9;"></div>
<div style="left:2202.3px;top:1224.9px;width:184.7px;height:0;border-top:2px dotted #d3d6d9;"></div>
<div style="left:2162.00px;top:1224.36px;width:40.30px;height:3.00px;background:#fff;"></div>
<span style="left:1163.83px;top:1199.54px;font-size:20.5px;letter-spacing:0.684px;font-weight:700;color:#F4A860;-webkit-text-stroke:0.35px #F4A860;">Moving Fees</span>
<span style="left:1402.03px;top:1195.74px;font-size:20.5px;letter-spacing:0.826px;font-weight:700;color:#F4A860;-webkit-text-stroke:0.35px #F4A860;">Moving company</span>
<span style="left:1986.78px;top:1195.74px;font-size:20.5px;letter-spacing:0.401px;font-weight:700;color:#F4A860;-webkit-text-stroke:0.35px #F4A860;">May 18, 2024</span>
<span style="left:2176.73px;top:1195.74px;font-size:20.5px;font-weight:700;color:#F4A860;-webkit-text-stroke:0.25px #F4A860;">$</span>
<span style="left:2207.89px;top:1195.74px;font-size:20.5px;letter-spacing:-0.005px;font-weight:700;color:#F4A860;-webkit-text-stroke:0.35px #F4A860;">2,186.00</span>
<div style="left:1032.5px;top:1263.9px;width:1129.5px;height:0;border-top:2px dotted #d3d6d9;"></div>
<div style="left:2202.3px;top:1263.9px;width:184.7px;height:0;border-top:2px dotted #d3d6d9;"></div>
<div style="left:2162.00px;top:1263.42px;width:40.30px;height:3.00px;background:#fff;"></div>
<span style="left:1176.38px;top:1238.60px;font-size:20.5px;letter-spacing:0.906px;font-weight:700;color:#F4A860;-webkit-text-stroke:0.35px #F4A860;">Education</span>
<span style="left:1402.03px;top:1234.80px;font-size:20.5px;letter-spacing:0.694px;font-weight:700;color:#F4A860;-webkit-text-stroke:0.35px #F4A860;">New school fee</span>
<span style="left:1986.78px;top:1234.80px;font-size:20.5px;letter-spacing:0.401px;font-weight:700;color:#F4A860;-webkit-text-stroke:0.35px #F4A860;">May 19, 2024</span>
<span style="left:2176.73px;top:1234.80px;font-size:20.5px;font-weight:700;color:#F4A860;-webkit-text-stroke:0.25px #F4A860;">$</span>
<span style="left:2207.31px;top:1234.80px;font-size:20.5px;letter-spacing:0.486px;font-weight:700;color:#F4A860;-webkit-text-stroke:0.35px #F4A860;">150.00</span>
<div style="left:1032.5px;top:1303.0px;width:1129.5px;height:0;border-top:2px dotted #d3d6d9;"></div>
<div style="left:2202.3px;top:1303.0px;width:184.7px;height:0;border-top:2px dotted #d3d6d9;"></div>
<div style="left:2162.00px;top:1302.48px;width:40.30px;height:3.00px;background:#fff;"></div>
<span style="left:1191.77px;top:1277.66px;font-size:20.5px;letter-spacing:0.680px;color:#9b9b9b;-webkit-text-stroke:0.25px #9b9b9b;">Repairs</span>
<span style="left:1401.72px;top:1273.86px;font-size:20.5px;letter-spacing:1.616px;color:#9b9b9b;-webkit-text-stroke:0.25px #9b9b9b;">Painting</span>
<span style="left:2176.78px;top:1273.86px;font-size:20.5px;color:#9b9b9b;-webkit-text-stroke:0.25px #9b9b9b;">$</span>
<span style="left:2207.82px;top:1273.86px;font-size:20.5px;letter-spacing:-0.474px;color:#9b9b9b;-webkit-text-stroke:0.25px #9b9b9b;">316.00</span>
<div style="left:1032.5px;top:1342.0px;width:1129.5px;height:0;border-top:2px dotted #d3d6d9;"></div>
<div style="left:2202.3px;top:1342.0px;width:184.7px;height:0;border-top:2px dotted #d3d6d9;"></div>
<div style="left:2162.00px;top:1341.54px;width:40.30px;height:3.00px;background:#fff;"></div>
<span style="left:1195.97px;top:1316.72px;font-size:20.5px;letter-spacing:1.529px;color:#9b9b9b;-webkit-text-stroke:0.25px #9b9b9b;">Health</span>
<span style="left:1403.31px;top:1312.92px;font-size:20.5px;letter-spacing:0.594px;color:#9b9b9b;-webkit-text-stroke:0.25px #9b9b9b;">Vaccines</span>
<span style="left:2176.78px;top:1312.92px;font-size:20.5px;color:#9b9b9b;-webkit-text-stroke:0.25px #9b9b9b;">$</span>
<span style="left:2207.78px;top:1312.92px;font-size:20.5px;letter-spacing:0.777px;color:#9b9b9b;-webkit-text-stroke:0.25px #9b9b9b;">50.00</span>
<div style="left:1032.5px;top:1381.1px;width:1129.5px;height:0;border-top:2px dotted #d3d6d9;"></div>
<div style="left:2202.3px;top:1381.1px;width:184.7px;height:0;border-top:2px dotted #d3d6d9;"></div>
<div style="left:2162.00px;top:1380.60px;width:40.30px;height:3.00px;background:#fff;"></div>
<span style="left:1179.91px;top:1355.78px;font-size:20.5px;letter-spacing:1.046px;color:#1c1a19;-webkit-text-stroke:0.25px #1c1a19;">Insurance</span>
<span style="left:1401.72px;top:1351.98px;font-size:20.5px;letter-spacing:1.083px;color:#1c1a19;-webkit-text-stroke:0.25px #1c1a19;">New home insurance</span>
<span style="left:1990.72px;top:1351.98px;font-size:20.5px;letter-spacing:-0.196px;color:#1c1a19;-webkit-text-stroke:0.25px #1c1a19;">May 31, 2024</span>
<span style="left:2176.78px;top:1351.98px;font-size:20.5px;color:#1c1a19;-webkit-text-stroke:0.25px #1c1a19;">$</span>
<span style="left:2207.57px;top:1351.98px;font-size:20.5px;letter-spacing:0.846px;color:#1c1a19;-webkit-text-stroke:0.25px #1c1a19;">288.00</span>
<div style="left:1032.5px;top:1420.2px;width:1129.5px;height:0;border-top:2px dotted #d3d6d9;"></div>
<div style="left:2202.3px;top:1420.2px;width:184.7px;height:0;border-top:2px dotted #d3d6d9;"></div>
<div style="left:2162.00px;top:1419.66px;width:40.30px;height:3.00px;background:#fff;"></div>
<span style="left:1185.06px;top:1394.84px;font-size:20.5px;letter-spacing:1.206px;color:#1c1a19;-webkit-text-stroke:0.25px #1c1a19;">Cleaning</span>
<span style="left:1401.72px;top:1391.04px;font-size:20.5px;letter-spacing:1.152px;color:#1c1a19;-webkit-text-stroke:0.25px #1c1a19;">Deep cleaning</span>
<span style="left:1987.62px;top:1391.04px;font-size:20.5px;letter-spacing:0.368px;color:#1c1a19;-webkit-text-stroke:0.25px #1c1a19;">May 30, 2024</span>
<span style="left:2176.78px;top:1391.04px;font-size:20.5px;color:#1c1a19;-webkit-text-stroke:0.25px #1c1a19;">$</span>
<span style="left:2207.57px;top:1391.04px;font-size:20.5px;letter-spacing:0.956px;color:#1c1a19;-webkit-text-stroke:0.25px #1c1a19;">280.00</span>
<div style="left:1032.5px;top:1459.2px;width:1129.5px;height:0;border-top:2px dotted #d3d6d9;"></div>
<div style="left:2202.3px;top:1459.2px;width:184.7px;height:0;border-top:2px dotted #d3d6d9;"></div>
<div style="left:2162.00px;top:1458.72px;width:40.30px;height:3.00px;background:#fff;"></div>
<span style="left:1203.87px;top:1433.90px;font-size:20.5px;letter-spacing:1.456px;color:#1c1a19;-webkit-text-stroke:0.25px #1c1a19;">Food</span>
<span style="left:1401.82px;top:1430.10px;font-size:20.5px;letter-spacing:0.797px;color:#1c1a19;-webkit-text-stroke:0.25px #1c1a19;">Uber Eats Takeout</span>
<span style="left:2176.78px;top:1430.10px;font-size:20.5px;color:#1c1a19;-webkit-text-stroke:0.25px #1c1a19;">$</span>
<span style="left:2207.57px;top:1430.10px;font-size:20.5px;letter-spacing:1.066px;color:#1c1a19;-webkit-text-stroke:0.25px #1c1a19;">200.00</span>
<div style="left:1032.5px;top:1498.3px;width:1129.5px;height:0;border-top:2px dotted #d3d6d9;"></div>
<div style="left:2202.3px;top:1498.3px;width:184.7px;height:0;border-top:2px dotted #d3d6d9;"></div>
<div style="left:2162.00px;top:1497.78px;width:40.30px;height:3.00px;background:#fff;"></div>
<span style="left:1189.93px;top:1472.96px;font-size:20.5px;letter-spacing:0.599px;font-weight:700;color:#D0432B;-webkit-text-stroke:0.35px #D0432B;">Repairs</span>
<span style="left:1402.03px;top:1469.16px;font-size:20.5px;letter-spacing:1.112px;font-weight:700;color:#D0432B;-webkit-text-stroke:0.35px #D0432B;">Painting</span>
<span style="left:1986.78px;top:1469.16px;font-size:20.5px;letter-spacing:0.401px;font-weight:700;color:#D0432B;-webkit-text-stroke:0.35px #D0432B;">May 10, 2024</span>
<span style="left:2176.73px;top:1469.16px;font-size:20.5px;font-weight:700;color:#D0432B;-webkit-text-stroke:0.25px #D0432B;">$</span>
<span style="left:2208.13px;top:1469.16px;font-size:20.5px;letter-spacing:1.624px;font-weight:700;color:#D0432B;-webkit-text-stroke:0.35px #D0432B;">300.00</span>
<div style="left:1032.5px;top:1537.3px;width:1129.5px;height:0;border-top:2px dotted #d3d6d9;"></div>
<div style="left:2202.3px;top:1537.3px;width:184.7px;height:0;border-top:2px dotted #d3d6d9;"></div>
<div style="left:2162.00px;top:1536.84px;width:40.30px;height:3.00px;background:#fff;"></div>
<span style="left:1153.42px;top:1512.02px;font-size:20.5px;letter-spacing:0.760px;font-weight:700;color:#D0432B;-webkit-text-stroke:0.35px #D0432B;">Transportation</span>
<span style="left:1402.03px;top:1508.22px;font-size:20.5px;letter-spacing:0.687px;font-weight:700;color:#D0432B;-webkit-text-stroke:0.35px #D0432B;">Flights</span>
<span style="left:1986.78px;top:1508.22px;font-size:20.5px;letter-spacing:0.401px;font-weight:700;color:#D0432B;-webkit-text-stroke:0.35px #D0432B;">May 10, 2024</span>
<span style="left:2176.73px;top:1508.22px;font-size:20.5px;font-weight:700;color:#D0432B;-webkit-text-stroke:0.25px #D0432B;">$</span>
<span style="left:2207.31px;top:1508.22px;font-size:20.5px;letter-spacing:0.265px;font-weight:700;color:#D0432B;-webkit-text-stroke:0.35px #D0432B;">1,280.00</span>
<div style="left:1032.5px;top:1576.4px;width:1129.5px;height:0;border-top:2px dotted #d3d6d9;"></div>
<div style="left:2202.3px;top:1576.4px;width:184.7px;height:0;border-top:2px dotted #d3d6d9;"></div>
<div style="left:2162.00px;top:1575.90px;width:40.30px;height:3.00px;background:#fff;"></div>
<span style="left:1153.42px;top:1551.08px;font-size:20.5px;letter-spacing:0.760px;font-weight:700;color:#D0432B;-webkit-text-stroke:0.35px #D0432B;">Transportation</span>
<span style="left:1402.56px;top:1547.28px;font-size:20.5px;letter-spacing:0.708px;font-weight:700;color:#D0432B;-webkit-text-stroke:0.35px #D0432B;">Car rental</span>
<span style="left:1986.78px;top:1547.28px;font-size:20.5px;letter-spacing:0.401px;font-weight:700;color:#D0432B;-webkit-text-stroke:0.35px #D0432B;">May 16, 2024</span>
<span style="left:2176.73px;top:1547.28px;font-size:20.5px;font-weight:700;color:#D0432B;-webkit-text-stroke:0.25px #D0432B;">$</span>
<span style="left:2208.13px;top:1547.28px;font-size:20.5px;letter-spacing:1.624px;font-weight:700;color:#D0432B;-webkit-text-stroke:0.35px #D0432B;">300.00</span>
<div style="left:1032.5px;top:1615.5px;width:1129.5px;height:0;border-top:2px dotted #d3d6d9;"></div>
<div style="left:2202.3px;top:1615.5px;width:184.7px;height:0;border-top:2px dotted #d3d6d9;"></div>
<div style="left:2162.00px;top:1614.96px;width:40.30px;height:3.00px;background:#fff;"></div>
<span style="left:2176.78px;top:1586.34px;font-size:20.5px;color:#1c1a19;-webkit-text-stroke:0.25px #1c1a19;">$</span>
<div style="left:1032.5px;top:1654.5px;width:1129.5px;height:0;border-top:2px dotted #d3d6d9;"></div>
<div style="left:2202.3px;top:1654.5px;width:184.7px;height:0;border-top:2px dotted #d3d6d9;"></div>
<div style="left:2162.00px;top:1654.02px;width:40.30px;height:3.00px;background:#fff;"></div>
<span style="left:2176.78px;top:1625.40px;font-size:20.5px;color:#1c1a19;-webkit-text-stroke:0.25px #1c1a19;">$</span>
<div style="left:1032.5px;top:1693.6px;width:1129.5px;height:0;border-top:2px dotted #d3d6d9;"></div>
<div style="left:2202.3px;top:1693.6px;width:184.7px;height:0;border-top:2px dotted #d3d6d9;"></div>
<div style="left:2162.00px;top:1693.08px;width:40.30px;height:3.00px;background:#fff;"></div>
<span style="left:2176.78px;top:1664.46px;font-size:20.5px;color:#1c1a19;-webkit-text-stroke:0.25px #1c1a19;">$</span>
<div style="left:1032.5px;top:1732.6px;width:1129.5px;height:0;border-top:2px dotted #d3d6d9;"></div>
<div style="left:2202.3px;top:1732.6px;width:184.7px;height:0;border-top:2px dotted #d3d6d9;"></div>
<div style="left:2162.00px;top:1732.14px;width:40.30px;height:3.00px;background:#fff;"></div>
<span style="left:2176.78px;top:1703.52px;font-size:20.5px;color:#1c1a19;-webkit-text-stroke:0.25px #1c1a19;">$</span>
<svg width="2700" height="2025" viewBox="0 0 2700 2025" style="left:0;top:0"><rect x="1055.15" y="1197.0" width="20.7" height="20.7" rx="2.8" fill="#fff" stroke="#F5B37A" stroke-width="2.5"/><path d="M1369.5,1202.4 L1383.1,1202.4 L1376.3,1210.0 Z" fill="#777"/><rect x="1055.15" y="1236.0" width="20.7" height="20.7" rx="2.8" fill="#fff" stroke="#F5B37A" stroke-width="2.5"/><path d="M1369.5,1241.5 L1383.1,1241.5 L1376.3,1249.1 Z" fill="#777"/><rect x="1053.9" y="1273.8" width="23.2" height="23.2" rx="3" fill="#999"/><path d="M1057.5,1285.8 L1062.7,1290.8 L1073.1,1279.8" fill="none" stroke="#fff" stroke-width="2.8"/><path d="M1369.5,1280.5 L1383.1,1280.5 L1376.3,1288.1 Z" fill="#777"/><rect x="1053.9" y="1312.9" width="23.2" height="23.2" rx="3" fill="#999"/><path d="M1057.5,1324.9 L1062.7,1329.9 L1073.1,1318.9" fill="none" stroke="#fff" stroke-width="2.8"/><path d="M1369.5,1319.6 L1383.1,1319.6 L1376.3,1327.2 Z" fill="#777"/><rect x="1055.15" y="1353.2" width="20.7" height="20.7" rx="2.8" fill="#fff" stroke="#7d7d7d" stroke-width="2.5"/><path d="M1369.5,1358.6 L1383.1,1358.6 L1376.3,1366.2 Z" fill="#777"/><rect x="1055.15" y="1392.2" width="20.7" height="20.7" rx="2.8" fill="#fff" stroke="#7d7d7d" stroke-width="2.5"/><path d="M1369.5,1397.7 L1383.1,1397.7 L1376.3,1405.3 Z" fill="#777"/><rect x="1055.15" y="1431.3" width="20.7" height="20.7" rx="2.8" fill="#fff" stroke="#7d7d7d" stroke-width="2.5"/><path d="M1369.5,1436.8 L1383.1,1436.8 L1376.3,1444.4 Z" fill="#777"/><rect x="1055.15" y="1470.4" width="20.7" height="20.7" rx="2.8" fill="#fff" stroke="#D0432B" stroke-width="2.5"/><path d="M1369.5,1475.8 L1383.1,1475.8 L1376.3,1483.4 Z" fill="#777"/><rect x="1055.15" y="1509.4" width="20.7" height="20.7" rx="2.8" fill="#fff" stroke="#D0432B" stroke-width="2.5"/><path d="M1369.5,1514.9 L1383.1,1514.9 L1376.3,1522.5 Z" fill="#777"/><rect x="1055.15" y="1548.5" width="20.7" height="20.7" rx="2.8" fill="#fff" stroke="#D0432B" stroke-width="2.5"/><path d="M1369.5,1553.9 L1383.1,1553.9 L1376.3,1561.5 Z" fill="#777"/><rect x="1055.15" y="1587.6" width="20.7" height="20.7" rx="2.8" fill="#fff" stroke="#7d7d7d" stroke-width="2.5"/><path d="M1369.5,1593.0 L1383.1,1593.0 L1376.3,1600.6 Z" fill="#777"/><rect x="1055.15" y="1626.6" width="20.7" height="20.7" rx="2.8" fill="#fff" stroke="#7d7d7d" stroke-width="2.5"/><path d="M1369.5,1632.1 L1383.1,1632.1 L1376.3,1639.7 Z" fill="#777"/><rect x="1055.15" y="1665.7" width="20.7" height="20.7" rx="2.8" fill="#fff" stroke="#7d7d7d" stroke-width="2.5"/><path d="M1369.5,1671.1 L1383.1,1671.1 L1376.3,1678.7 Z" fill="#777"/><rect x="1055.15" y="1704.7" width="20.7" height="20.7" rx="2.8" fill="#fff" stroke="#7d7d7d" stroke-width="2.5"/><path d="M1369.5,1710.2 L1383.1,1710.2 L1376.3,1717.8 Z" fill="#777"/></svg>
<div style="left:1096.8px;top:1186.8px;height:523.8px;width:0;border-left:2px dotted #dde0e3;"></div>
<div style="left:1394.8px;top:1186.8px;height:523.8px;width:0;border-left:2px dotted #dde0e3;"></div>
<div style="left:1937.0px;top:1186.8px;height:523.8px;width:0;border-left:2px dotted #dde0e3;"></div>
<div style="left:1030.50px;top:1069.00px;width:2.00px;height:641.60px;background:#a6a6a6;"></div>
<div style="left:2387.00px;top:1069.00px;width:2.00px;height:641.60px;background:#a6a6a6;"></div>
</div>
<svg width="2700" height="300" viewBox="0 0 2700 300" style="left:0;top:0"><g fill="none" stroke="#060606" stroke-width="16" stroke-linecap="round" stroke-linejoin="round"><path d="M1072.9,134.5 L1072.9,212.8 L1106,212.8 C1122,212.8 1130.6,205.5 1130.6,193 C1130.6,180.5 1121,173 1105,173 L1072.9,173 M1105,173 C1119.5,173 1128.2,165 1128.2,153.5 C1128.2,141.5 1120,134.5 1104,134.5 L1072.9,134.5"/><path d="M1171.6,134.5 L1171.6,180 C1171.6,202 1183.5,212.8 1203.3,212.8 C1223,212.8 1235,202 1235,180 L1235,134.5"/><path d="M1278.6,134.5 L1278.6,212.8 L1304,212.8 C1331,212.8 1346.4,198 1346.4,173.6 C1346.4,149 1331,134.5 1304,134.5 Z"/><path d="M1449,144.5 C1441,137.5 1431,134.5 1420.5,134.5 C1398,134.5 1384.6,150 1384.6,173.6 C1384.6,197 1398,212.8 1421,212.8 C1432,212.8 1442,210.5 1450.2,206 L1450.2,175.5 L1429,175.5"/><path d="M1540.1,134.5 L1493.8,134.5 L1493.8,212.8 L1540.1,212.8 M1493.8,174 L1537.9,174"/><path d="M1570.7,134.5 L1637.6,134.5 M1604,134.5 L1604,212.8"/></g></svg>
<span style="left:165.74px;top:303.54px;font-size:59px;letter-spacing:1.766px;font-weight:700;color:#0b0b0b;-webkit-text-stroke:0.9px #0b0b0b;">STAY</span>
<span style="left:347.09px;top:303.54px;font-size:59px;letter-spacing:3.766px;font-weight:700;color:#0b0b0b;-webkit-text-stroke:0.9px #0b0b0b;">ON</span>
<span style="left:460.82px;top:303.54px;font-size:59px;letter-spacing:1.766px;font-weight:700;color:#0b0b0b;-webkit-text-stroke:0.9px #0b0b0b;">TRACK</span>
<span style="left:696.03px;top:303.54px;font-size:59px;letter-spacing:3.150px;color:#141414;">WITH</span>
<span style="left:877.50px;top:303.54px;font-size:59px;letter-spacing:1.321px;color:#141414;">YOUR</span>
<span style="left:1070.86px;top:303.54px;font-size:59px;letter-spacing:2.007px;color:#141414;">BUDGET</span>
<span style="left:1347.79px;top:303.54px;font-size:59px;letter-spacing:1.150px;color:#141414;">&amp;</span>
<span style="left:1406.24px;top:303.54px;font-size:59px;letter-spacing:4.347px;font-weight:700;color:#0b0b0b;-webkit-text-stroke:0.9px #0b0b0b;">KNOW</span>
<span style="left:1633.12px;top:303.54px;font-size:59px;letter-spacing:4.347px;font-weight:700;color:#0b0b0b;-webkit-text-stroke:0.9px #0b0b0b;">WHERE</span>
<span style="left:1889.69px;top:303.54px;font-size:59px;letter-spacing:3.025px;font-weight:700;color:#0b0b0b;-webkit-text-stroke:0.9px #0b0b0b;">YOU</span>
<span style="left:2044.80px;top:303.54px;font-size:59px;letter-spacing:3.549px;font-weight:700;color:#0b0b0b;-webkit-text-stroke:0.9px #0b0b0b;">SPEND</span>
<span style="left:2282.72px;top:303.54px;font-size:59px;letter-spacing:2.347px;font-weight:700;color:#0b0b0b;-webkit-text-stroke:0.9px #0b0b0b;">THE</span>
<span style="left:2426.25px;top:303.54px;font-size:59px;letter-spacing:2.914px;font-weight:700;color:#0b0b0b;-webkit-text-stroke:0.9px #0b0b0b;">MOST</span>
<span style="left:418.52px;top:466.82px;font-size:44.5px;letter-spacing:-1.965px;font-weight:700;color:#0b0b0b;-webkit-text-stroke:0.6px #0b0b0b;">STEP 1</span>
<span style="left:561.44px;top:466.82px;font-size:44.5px;color:#141414;">:</span>
<span style="left:581.75px;top:466.82px;font-size:44.5px;letter-spacing:2.104px;color:#141414;">Enter</span>
<span style="left:712.09px;top:466.82px;font-size:44.5px;letter-spacing:2.423px;color:#141414;">your</span>
<span style="left:817.21px;top:466.82px;font-size:44.5px;letter-spacing:2.191px;color:#141414;">currency</span>
<span style="left:1018.92px;top:466.82px;font-size:44.5px;letter-spacing:2.657px;color:#141414;">here</span>
<span style="left:1345.29px;top:436.32px;font-size:44.5px;letter-spacing:1.517px;font-weight:700;color:#0b0b0b;-webkit-text-stroke:0.6px #0b0b0b;">Automatic</span>
<span style="left:1593.70px;top:436.32px;font-size:44.5px;letter-spacing:1.956px;font-weight:700;color:#0b0b0b;-webkit-text-stroke:0.6px #0b0b0b;">alerts</span>
<span style="left:1732.45px;top:436.32px;font-size:44.5px;letter-spacing:3.259px;color:#141414;">highlight</span>
<span style="left:1938.83px;top:436.32px;font-size:44.5px;letter-spacing:2.420px;color:#141414;">overdue</span>
<span style="left:2126.55px;top:436.32px;font-size:44.5px;letter-spacing:3.259px;color:#141414;">payments</span>
<span style="left:2354.06px;top:436.32px;font-size:44.5px;letter-spacing:3.259px;color:#141414;">in</span>
<span style="left:1430.89px;top:495.12px;font-size:44.5px;letter-spacing:2.406px;color:#141414;">red</span>
<span style="left:1513.76px;top:495.12px;font-size:44.5px;letter-spacing:2.406px;color:#141414;">and</span>
<span style="left:1607.30px;top:495.12px;font-size:44.5px;letter-spacing:2.406px;color:#141414;">those</span>
<span style="left:1739.82px;top:495.12px;font-size:44.5px;letter-spacing:2.406px;color:#141414;">due</span>
<span style="left:1837.22px;top:495.12px;font-size:44.5px;letter-spacing:2.406px;color:#141414;">within</span>
<span style="left:1978.41px;top:495.12px;font-size:44.5px;letter-spacing:2.200px;color:#141414;">3</span>
<span style="left:2014.33px;top:495.12px;font-size:44.5px;letter-spacing:1.326px;color:#141414;">days</span>
<span style="left:2122.72px;top:495.12px;font-size:44.5px;letter-spacing:1.026px;color:#141414;">in</span>
<span style="left:2172.09px;top:495.12px;font-size:44.5px;letter-spacing:2.406px;color:#141414;">yellow</span>
<span style="left:401.52px;top:1814.02px;font-size:44.5px;letter-spacing:-0.077px;font-weight:700;color:#0b0b0b;-webkit-text-stroke:0.6px #0b0b0b;">STEP 2</span>
<span style="left:551.54px;top:1814.02px;font-size:44.5px;color:#141414;">:</span>
<span style="left:572.84px;top:1814.02px;font-size:44.5px;letter-spacing:2.442px;color:#141414;">Customize</span>
<span style="left:813.60px;top:1814.02px;font-size:44.5px;letter-spacing:2.548px;color:#141414;">your</span>
<span style="left:918.81px;top:1814.02px;font-size:44.5px;letter-spacing:2.208px;color:#141414;">categories</span>
<span style="left:499.64px;top:1872.32px;font-size:44.5px;letter-spacing:2.569px;color:#141414;">and</span>
<span style="left:591.54px;top:1872.32px;font-size:44.5px;letter-spacing:2.569px;color:#141414;">set</span>
<span style="left:666.18px;top:1872.32px;font-size:44.5px;letter-spacing:1.169px;color:#141414;">a</span>
<span style="left:707.10px;top:1872.32px;font-size:44.5px;letter-spacing:2.569px;color:#141414;">budget</span>
<span style="left:873.92px;top:1872.32px;font-size:44.5px;letter-spacing:1.169px;color:#141414;">for</span>
<span style="left:942.90px;top:1872.32px;font-size:44.5px;letter-spacing:2.569px;color:#141414;">each</span>
<span style="left:1478.92px;top:1815.92px;font-size:44.5px;letter-spacing:-0.311px;font-weight:700;color:#0b0b0b;-webkit-text-stroke:0.6px #0b0b0b;">STEP 3</span>
<span style="left:1626.94px;top:1815.92px;font-size:44.5px;color:#141414;">:</span>
<span style="left:1650.65px;top:1815.92px;font-size:44.5px;letter-spacing:2.136px;color:#141414;">Log</span>
<span style="left:1741.59px;top:1815.92px;font-size:44.5px;letter-spacing:1.423px;color:#141414;">your</span>
<span style="left:1847.71px;top:1815.92px;font-size:44.5px;letter-spacing:1.657px;color:#141414;">expenses</span>
<span style="left:2062.91px;top:1815.92px;font-size:44.5px;letter-spacing:1.895px;color:#141414;">here</span>
<span style="left:1491.29px;top:1875.32px;font-size:44.5px;letter-spacing:2.774px;color:#141414;">and</span>
<span style="left:1586.73px;top:1875.32px;font-size:44.5px;letter-spacing:2.774px;color:#141414;">mark</span>
<span style="left:1714.40px;top:1875.32px;font-size:44.5px;letter-spacing:2.774px;color:#141414;">them</span>
<span style="left:1836.73px;top:1875.32px;font-size:44.5px;letter-spacing:1.466px;color:#141414;">off</span>
<span style="left:1902.72px;top:1875.32px;font-size:44.5px;letter-spacing:1.374px;color:#141414;">as</span>
<span style="left:1961.07px;top:1875.32px;font-size:44.5px;letter-spacing:2.774px;color:#141414;">you</span>
<span style="left:2052.22px;top:1875.32px;font-size:44.5px;letter-spacing:2.774px;color:#141414;">paid</span>
<span style="left:2339.83px;top:1966.41px;font-size:34px;letter-spacing:2.367px;color:#141414;">@heymorningdigital</span>
<svg width="2700" height="2025" viewBox="0 0 2700 2025" style="left:0;top:0"><g fill="none" stroke="#060606" stroke-width="4.2" stroke-linecap="round" stroke-linejoin="round"><path d="M899.2,522 L899.2,1093"/><path d="M1635.7,1355 L1641,1803.3"/><path d="M486,1629 L486,1722.4 Q486,1746.4 510,1746.4 L643.7,1746.4 Q667.7,1746.4 667.7,1722.4 L667.7,1587"/><path d="M576.6,1746.4 L576.6,1805.7"/><path d="M2416,489.4 L2513,489.4 Q2538,489.4 2538,514.4 L2538,1336 Q2538,1361 2513,1361 L2480,1361"/><path d="M2300.7,1218.4 L2454.7,1218.4 Q2479.7,1218.4 2479.7,1243.4 L2479.7,1490 Q2479.7,1515 2454.7,1515 L2310.5,1515"/></g><g fill="#060606"><circle cx="899.2" cy="522" r="8"/><circle cx="899.2" cy="1093" r="8"/><circle cx="1635.7" cy="1355" r="8"/><circle cx="1641" cy="1803.3" r="8"/><circle cx="486" cy="1629" r="8"/><circle cx="667.7" cy="1587" r="8"/><circle cx="576.6" cy="1805.7" r="8"/><circle cx="2416" cy="489.4" r="8"/><circle cx="2300.7" cy="1218.4" r="8"/><circle cx="2310.5" cy="1515" r="8"/></g></svg>
</div></body></html>
